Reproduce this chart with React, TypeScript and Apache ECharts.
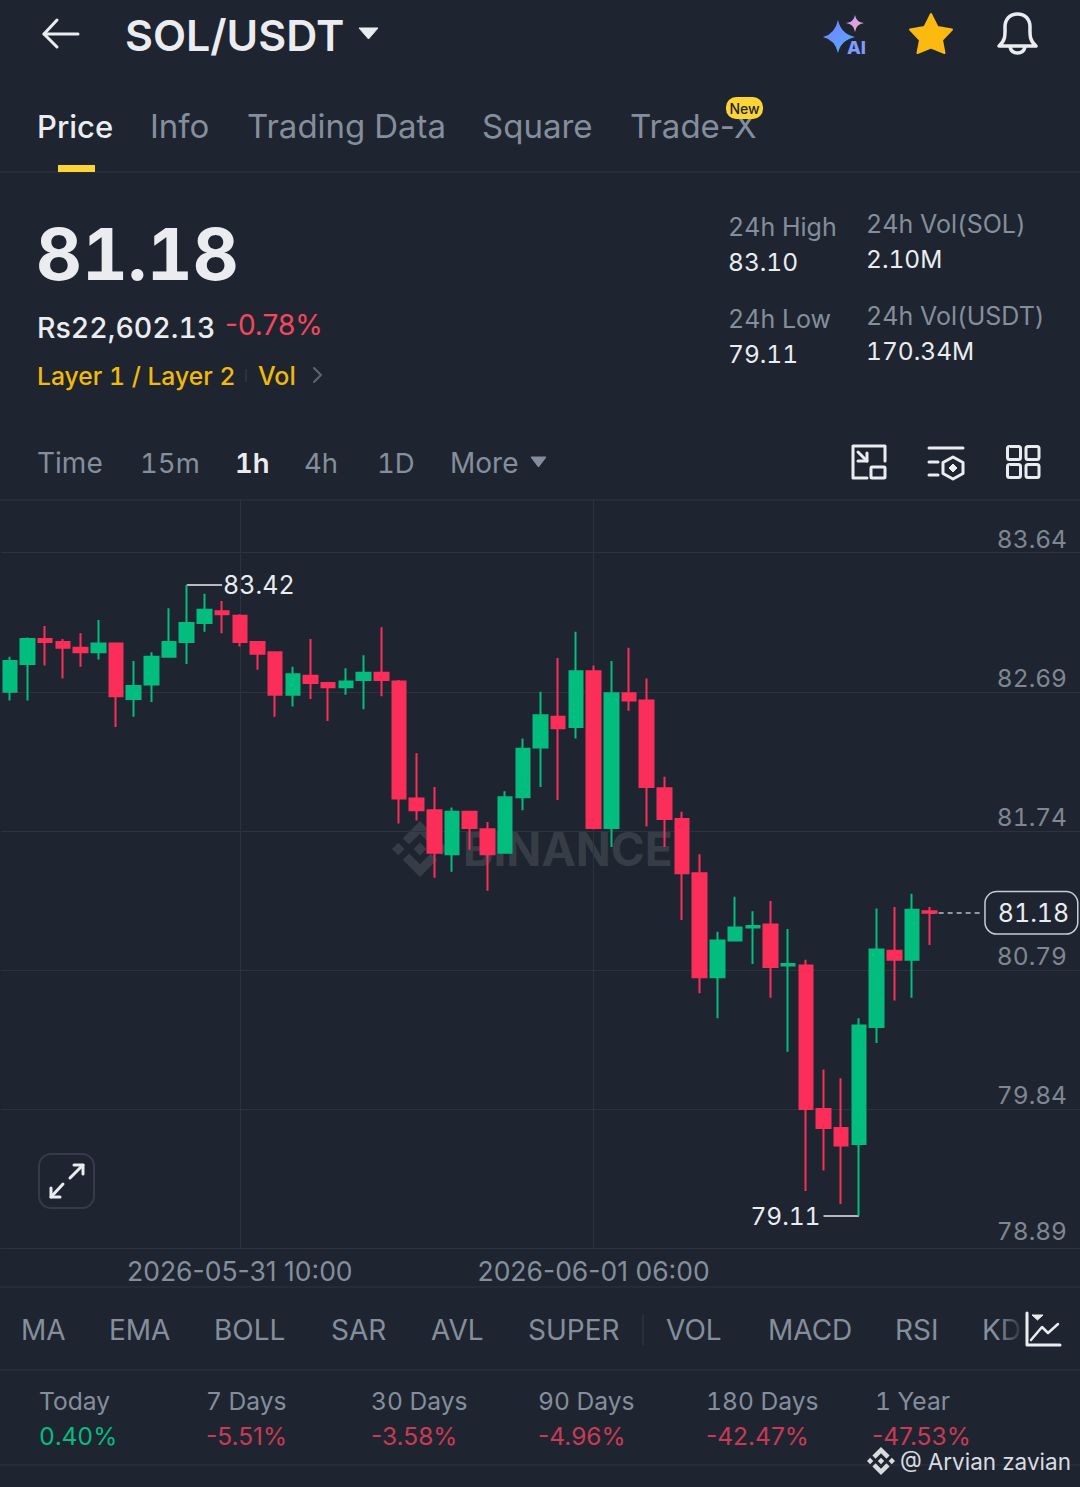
import React, { useEffect, useRef } from "react";
import * as echarts from "echarts";

const categories = [
  "2026-05-30 21:00","2026-05-30 22:00","2026-05-30 23:00",
  "2026-05-31 00:00","2026-05-31 01:00","2026-05-31 02:00","2026-05-31 03:00","2026-05-31 04:00","2026-05-31 05:00",
  "2026-05-31 06:00","2026-05-31 07:00","2026-05-31 08:00","2026-05-31 09:00","2026-05-31 10:00","2026-05-31 11:00",
  "2026-05-31 12:00","2026-05-31 13:00","2026-05-31 14:00","2026-05-31 15:00","2026-05-31 16:00","2026-05-31 17:00",
  "2026-05-31 18:00","2026-05-31 19:00","2026-05-31 20:00","2026-05-31 21:00","2026-05-31 22:00","2026-05-31 23:00",
  "2026-06-01 00:00","2026-06-01 01:00","2026-06-01 02:00","2026-06-01 03:00","2026-06-01 04:00","2026-06-01 05:00",
  "2026-06-01 06:00","2026-06-01 07:00","2026-06-01 08:00","2026-06-01 09:00","2026-06-01 10:00","2026-06-01 11:00",
  "2026-06-01 12:00","2026-06-01 13:00","2026-06-01 14:00","2026-06-01 15:00","2026-06-01 16:00","2026-06-01 17:00",
  "2026-06-01 18:00","2026-06-01 19:00","2026-06-01 20:00","2026-06-01 21:00","2026-06-01 22:00","2026-06-01 23:00",
  "2026-06-02 00:00","2026-06-02 01:00","2026-06-02 02:00","2026-06-02 03:00","2026-06-02 04:00","2026-06-02 05:00",
  "2026-06-02 06:00","2026-06-02 07:00","2026-06-02 08:00","2026-06-02 09:00",
];

const opens = [82.69,82.88,83.05,83.03,82.99,82.96,83.02,82.64,82.74,82.93,83.03,83.16,83.24,83.21,83.03,82.96,82.67,82.80,82.75,82.72,
  82.77,82.82,82.76,81.96,81.88,81.58,81.87,81.75,81.59,81.97,82.31,82.52,82.45,82.83,81.76,82.68,82.63,82.03,81.82,81.45,
  80.74,80.99,81.08,81.10,80.82,80.82,79.84,79.71,79.60,80.40,80.92,80.86,81.19];
const closes = [82.90,83.05,83.03,82.99,82.96,83.02,82.66,82.73,82.93,83.03,83.16,83.25,83.22,83.03,82.95,82.67,82.81,82.75,82.72,82.76,
  82.82,82.77,81.96,81.88,81.59,81.87,81.76,81.58,81.97,82.30,82.53,82.44,82.83,81.76,82.68,82.63,82.04,81.82,81.45,80.74,
  80.99,81.08,81.09,80.81,80.83,79.84,79.71,79.59,80.41,80.93,80.86,81.20,81.18];
const lows = [82.63,82.63,82.87,82.78,82.86,82.91,82.45,82.52,82.62,82.93,82.88,83.10,83.09,83.00,82.84,82.52,82.59,82.64,82.49,82.67,
  82.57,82.66,81.79,81.81,81.42,81.46,81.61,81.33,81.59,81.88,82.04,81.95,82.37,81.75,81.63,82.56,81.77,81.63,81.13,80.63,
  80.46,80.99,80.83,80.60,80.23,79.28,79.42,79.19,79.11,80.29,80.58,80.60,80.96];
const highs = [82.93,83.06,83.14,83.05,83.09,83.18,83.02,82.90,82.96,83.26,83.42,83.36,83.31,83.22,83.03,82.96,82.86,83.05,82.75,82.85,
  82.94,83.13,82.77,82.27,82.04,81.90,81.87,81.80,82.01,82.37,82.69,82.92,83.10,82.87,82.90,82.99,82.78,82.11,81.87,81.58,
  81.05,81.29,81.19,81.26,81.07,80.86,80.11,80.05,80.46,81.21,81.22,81.31,81.22];

const priceTicks = [78.89, 79.84, 80.79, 81.74, 82.69, 83.64];
const timeMarks = ["2026-05-31 10:00", "2026-06-01 06:00"];

const tabs = ["Price", "Info", "Trading Data", "Square", "Trade-X"];
const intervals = ["Time", "15m", "1h", "4h", "1D", "More"];
const indicators = ["MA", "EMA", "BOLL", "SAR", "AVL", "SUPER", "VOL", "MACD", "RSI", "KD"];
const periodNames = ["Today", "7 Days", "30 Days", "90 Days", "180 Days", "1 Year"];
const periodChanges = ["0.40%", "-5.51%", "-3.58%", "-4.96%", "-42.47%", "-47.53%"];

const BG = "#1E2530";
const UP = "#03BD7F";
const DOWN = "#FB2E5A";
const GRAY = "#848E9C";
const WHITE = "#EAECEF";
const LINE = "#2C333E";
const YELLOW = "#FCD535";
const FONT = "Inter, 'Noto Sans', sans-serif";
// The made-up first family only marks the texts that take tabular figures in the style sheet below.
const FONT_TN = "TabNum, Inter, 'Noto Sans', sans-serif";

const LOGO =
  "M38.73 53.2 63.32 28.62 87.92 53.22 102.22 38.91 63.32 0 24.42 38.9Z" +
  "M0 63.31 14.3 49 28.61 63.31 14.3 77.61Z" +
  "M38.73 73.41 63.32 98 87.92 73.4 102.23 87.69 63.33 126.6 24.42 87.72 24.42 87.69Z" +
  "M98 63.31 112.3 49 126.61 63.31 112.3 77.61Z" +
  "M77.83 63.3 63.32 48.78 52.59 59.51 51.35 60.74 48.81 63.28 63.32 77.78 77.83 63.31Z";

echarts.graphic.registerShape("binanceLogo", echarts.graphic.extendPath(LOGO, {}) as any);
echarts.graphic.registerShape(
  "sparkBig",
  echarts.graphic.extendPath("M838 20Q841 34 855 37Q841 40 838 53Q835 40 823 37Q835 34 838 20Z", {}) as any
);
echarts.graphic.registerShape(
  "sparkSmall",
  echarts.graphic.extendPath("M855 15Q856 22 864 23Q856 24 855 32Q854 24 846 23Q854 22 855 15Z", {}) as any
);
echarts.graphic.registerShape(
  "bell",
  echarts.graphic.extendPath(
    "M999 46C1006 40 1005 34 1005 27C1005 19 1010 14 1017.5 14C1025 14 1030 19 1030 27C1030 34 1029 40 1036 46ZM1010 47C1012 55 1023 55 1025 47",
    {}
  ) as any
);

function txt(text: string, x: number, y: number, size: number, fill: string, weight: number | string = 400, align = "left", z = 10) {
  return {
    type: "text",
    x,
    y,
    z,
    silent: true,
    style: {
      text,
      fill,
      fontSize: size,
      fontWeight: weight,
      fontFamily: text.includes("-") ? FONT : FONT_TN,
      align,
      verticalAlign: "middle",
    },
  };
}
function hr(y: number, color = LINE) {
  return { type: "line", z: 1, silent: true, shape: { x1: 0, y1: y, x2: 1080, y2: y }, style: { stroke: color, lineWidth: 1 } };
}
function poly(points: number[][], stroke = WHITE, lineWidth = 3) {
  return { type: "polyline", z: 10, silent: true, shape: { points }, style: { stroke, lineWidth, fill: "none", lineCap: "round", lineJoin: "round" } };
}
function tri(points: number[][], fill = WHITE) {
  return { type: "polygon", z: 10, silent: true, shape: { points }, style: { fill, stroke: fill, lineWidth: 1, lineJoin: "round" } };
}
function box(x: number, y: number, width: number, height: number, r: number, stroke = WHITE, lineWidth = 3) {
  return { type: "rect", z: 10, silent: true, shape: { x, y, width, height, r }, style: { fill: "none", stroke, lineWidth } };
}

const tabX = [37, 150, 247, 482, 630];
const intervalX = [37, 140, 235, 304, 377, 450];
const indicatorX = [21, 109, 214, 331, 431, 528, 666, 768, 895, 982];
const periodX = [39, 206, 371, 538, 706, 875];
const changeX = [39, 206, 371, 538, 706, 872];

function buildGraphics() {
  const els: any[] = [];
  [172, 500, 1287, 1370, 1465].forEach((y) => els.push(hr(y)));

  // Header
  els.push(poly([[57, 20], [44, 34], [57, 47]]), poly([[44, 34], [78, 34]]));
  els.push(txt("SOL/USDT", 125, 35, 43, WHITE, 600));
  els.push(tri([[359, 28], [378, 28], [368.5, 39]]));
  const aiGrad = new echarts.graphic.LinearGradient(0, 0, 1, 1, [
    { offset: 0, color: "#7B7BFF" },
    { offset: 1, color: "#4FB2FF" },
  ]);
  const aiGrad2 = new echarts.graphic.LinearGradient(0, 0, 1, 1, [
    { offset: 0, color: "#C79BFF" },
    { offset: 1, color: "#F2A9B8" },
  ]);
  els.push({ type: "sparkBig", z: 10, silent: true, style: { fill: aiGrad } });
  els.push({ type: "sparkSmall", z: 10, silent: true, style: { fill: aiGrad2 } });
  els.push(txt("AI", 847, 47, 18, "#7F9BFF", 800));
  els.push({
    type: "polygon",
    z: 10,
    silent: true,
    shape: { points: [[931, 14], [937.5, 27], [952, 29.5], [942, 40], [944.5, 53], [931, 47.5], [917.5, 53], [920, 40], [910, 29.5], [924.5, 27]] },
    style: { fill: "#FCB90F", stroke: "#FCB90F", lineWidth: 2, lineJoin: "round" },
  });
  els.push({ type: "bell", z: 10, silent: true, style: { fill: "none", stroke: WHITE, lineWidth: 3.5, lineJoin: "round" } });

  // Tabs
  tabs.forEach((t, i) => els.push(txt(t, tabX[i], 126, i === 0 ? 31 : 33, i === 0 ? WHITE : GRAY, i === 0 ? 500 : 400)));
  els.push({ type: "rect", z: 10, silent: true, shape: { x: 58, y: 165, width: 37, height: 7 }, style: { fill: YELLOW } });
  els.push({ type: "rect", z: 11, silent: true, shape: { x: 726, y: 97, width: 37, height: 22, r: 10 }, style: { fill: YELLOW } });
  els.push(txt("New", 744.5, 108, 14, "#1E2329", 500, "center", 12));

  // Price block
  els.push(txt("81.18", 36, 254, 71, WHITE, 700));
  els.push(txt("Rs22,602.13", 37, 327, 28.5, WHITE, 500));
  els.push(txt("-0.78%", 225, 325, 28, "#F6465D", 400));
  els.push(txt("Layer 1 / Layer 2", 37, 376, 24.7, "#F0B90B", 500));
  els.push({ type: "line", z: 10, silent: true, shape: { x1: 246, y1: 369, x2: 246, y2: 382 }, style: { stroke: "#3A414C", lineWidth: 1 } });
  els.push(txt("Vol", 258, 376, 25, "#F0B90B", 500));
  els.push(poly([[314, 368], [321, 375], [314, 382]], "#5E6673", 2));
  els.push(txt("24h High", 728, 227, 25, GRAY));
  els.push(txt("83.10", 728, 262, 24.5, WHITE));
  els.push(txt("24h Low", 728, 319, 25, GRAY));
  els.push(txt("79.11", 728, 354, 24.5, WHITE));
  els.push(txt("24h Vol(SOL)", 866, 224, 25, GRAY));
  els.push(txt("2.10M", 866, 259, 24.5, WHITE));
  els.push(txt("24h Vol(USDT)", 866, 316, 25, GRAY));
  els.push(txt("170.34M", 866, 351, 24.5, WHITE));

  // Interval row
  intervals.forEach((t, i) => els.push(txt(t, intervalX[i], 463, i >= 1 && i <= 4 ? 27.5 : 28, i === 2 ? WHITE : GRAY, i === 2 ? 600 : 400)));
  els.push(tri([[531, 457], [546, 457], [538.5, 467]], GRAY));
  els.push(poly([[885, 461], [885, 446], [853, 446], [853, 478], [867, 478]]));
  els.push(box(871, 467, 14, 11, 1));
  els.push(poly([[858, 452], [867, 461]]), poly([[858, 461], [867, 461], [867, 453]]));
  els.push(poly([[929, 448], [963, 448]]), poly([[929, 462], [938, 462]]), poly([[929, 475], [938, 475]]));
  els.push({
    type: "polygon",
    z: 10,
    silent: true,
    shape: { points: [[953, 457], [963, 462.5], [963, 473.5], [953, 479], [943, 473.5], [943, 462.5]] },
    style: { fill: "none", stroke: WHITE, lineWidth: 3, lineJoin: "round" },
  });
  els.push(tri([[953, 464], [957, 468], [953, 472], [949, 468]]));
  els.push(box(1007.5, 446.5, 13, 13, 2), box(1026, 446.5, 13, 13, 2), box(1007.5, 464.5, 13, 13, 2), box(1026, 464.5, 13, 13, 2));

  // Expand button
  els.push(box(39, 1154, 55, 54, 12, "#353C48", 2));
  els.push(poly([[70, 1178], [83, 1165]], WHITE, 3), poly([[74, 1165], [83, 1165], [83, 1174]], WHITE, 3));
  els.push(poly([[63, 1184], [51, 1197]], WHITE, 3), poly([[51, 1188], [51, 1197], [60, 1197]], WHITE, 3));

  // Chart watermark (behind the candles)
  els.push({ type: "binanceLogo", z: 0, silent: true, x: 392, y: 821, scaleX: 0.442, scaleY: 0.442, style: { fill: "#363D47" } });
  els.push(txt("BINANCE", 463, 849, 46, "#363D47", 700, "left", 0));

  // Indicator row
  indicators.forEach((t, i) => els.push(txt(t, indicatorX[i], 1330, 28, GRAY)));
  els.push({ type: "line", z: 10, silent: true, shape: { x1: 643, y1: 1315, x2: 643, y2: 1345 }, style: { stroke: "#353C48", lineWidth: 1 } });
  els.push({
    type: "rect",
    z: 11,
    silent: true,
    shape: { x: 998, y: 1310, width: 27, height: 40 },
    style: {
      fill: new echarts.graphic.LinearGradient(0, 0, 1, 0, [
        { offset: 0, color: "rgba(30,37,48,0)" },
        { offset: 1, color: "rgba(30,37,48,1)" },
      ]),
    },
  });
  els.push(poly([[1027, 1313], [1027, 1345], [1060, 1345]]));
  els.push(poly([[1031, 1340], [1042, 1327], [1048, 1333], [1058, 1324]], WHITE, 2.5));
  els.push(tri([[1032, 1315], [1043, 1315], [1037.5, 1320]]));

  // Period row
  periodNames.forEach((t, i) => els.push(txt(t, periodX[i], 1401, 24.6, GRAY)));
  periodChanges.forEach((t, i) => els.push(txt(t, changeX[i], 1436, 24.5, i === 0 ? UP : "#C93A55")));

  // Author watermark
  els.push({ type: "binanceLogo", z: 12, silent: true, x: 867, y: 1447, scaleX: 0.221, scaleY: 0.221, style: { fill: "#D8DCE0" } });
  els.push(txt("@ Arvian zavian", 900, 1461, 22.5, "#D8DCE0", 400, "left", 12));
  return els;
}

function buildOption() {
  const lastClose = closes[closes.length - 1];
  const highIdx = highs.indexOf(Math.max(...highs));
  const lowIdx = lows.indexOf(Math.min(...lows));
  const lastIdx = closes.length - 1;
  const markLineData: any[] = [
    ...timeMarks.map((t) => ({ xAxis: t, lineStyle: { color: LINE, width: 1, type: "solid" } })),
    [
      {
        coord: [categories[highIdx], highs[highIdx]],
        lineStyle: { color: WHITE, width: 1.5, type: "solid" },
        label: { show: true, position: "end", distance: 1, formatter: highs[highIdx].toFixed(2), color: WHITE, fontSize: 25, fontFamily: FONT_TN },
      },
      { coord: [categories[highIdx + 2], highs[highIdx]] },
    ],
    [
      { coord: [categories[lowIdx - 2], lows[lowIdx]] ,
        lineStyle: { color: WHITE, width: 1.5, type: "solid" },
        label: { show: true, position: "start", distance: 3, formatter: lows[lowIdx].toFixed(2), color: WHITE, fontSize: 24.5, fontFamily: FONT_TN },
      },
      { coord: [categories[lowIdx], lows[lowIdx]] },
    ],
    [
      {
        coord: [categories[lastIdx], lastClose],
        lineStyle: { color: "#B7BDC6", width: 1.5, type: [5, 4] },
        label: {
          show: true,
          position: "end",
          distance: 3,
          formatter: lastClose.toFixed(2),
          color: WHITE,
          fontSize: 25,
          fontFamily: FONT_TN,
          backgroundColor: BG,
          borderColor: "#C7CCD3",
          borderWidth: 1.5,
          borderRadius: 11,
          padding: [8, 23, 8, 12],
        },
      },
      { coord: [categories[lastIdx + 3], lastClose] },
    ],
  ];
  return {
    animation: false,
    backgroundColor: BG,
    graphic: { elements: buildGraphics() },
    grid: { left: 1, top: 500, width: 1080, height: 748, containLabel: false },
    xAxis: {
      type: "category",
      data: categories,
      axisLine: { show: true, lineStyle: { color: LINE, width: 1 } },
      axisTick: { show: false },
      splitLine: { show: false },
      axisLabel: {
        color: GRAY,
        fontSize: 26.5,
        fontFamily: FONT,
        margin: 9,
        interval: (_i: number, v: string) => timeMarks.includes(v),
      },
    },
    yAxis: {
      type: "value",
      position: "right",
      min: 78.89,
      max: 84.0,
      axisLine: { show: false },
      axisTick: { show: false, customValues: priceTicks },
      splitLine: { show: true, lineStyle: { color: LINE, width: 1 } },
      axisLabel: {
        inside: true,
        customValues: priceTicks,
        margin: 13,
        color: "#7F8792",
        fontSize: 24.5,
        fontFamily: FONT_TN,
        verticalAlign: "bottom",
        lineHeight: 28,
        formatter: (v: number) => (v === priceTicks[0] ? `{low|${v.toFixed(2)}}` : v.toFixed(2)),
        rich: { low: { color: "#7F8792", fontSize: 24.5, fontFamily: FONT_TN, lineHeight: 28, padding: [0, 0, 6, 0] } },
      },
    },
    series: [
      {
        type: "candlestick",
        name: "SOL/USDT",
        z: 2,
        barWidth: 14,
        data: opens.map((o, i) => [o, closes[i], lows[i], highs[i]]),
        itemStyle: { color: UP, color0: DOWN, borderColor: UP, borderColor0: DOWN, borderWidth: 2 },
        markLine: { silent: true, symbol: "none", z: 1, animation: false, label: { show: false }, data: markLineData },
      },
    ],
  };
}

export default function App() {
  const ref = useRef<HTMLDivElement>(null);
  useEffect(() => {
    document.body.style.margin = "0";
    document.body.style.background = BG;
    const chart = echarts.init(ref.current!, undefined, { renderer: "svg" });
    chart.setOption(buildOption() as any);
    return () => chart.dispose();
  }, []);
  return (
    <>
      <style>{`svg text[style*="TabNum"] { font-feature-settings: "tnum" 1 !important; font-variant-numeric: tabular-nums !important; }`}</style>
      <div ref={ref} style={{ width: 1080, height: 1487 }} />
    </>
  );
}
